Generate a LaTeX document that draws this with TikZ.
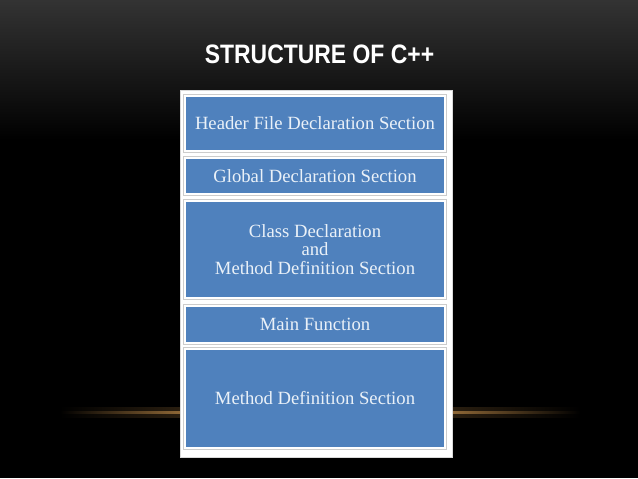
\documentclass[tikz,border=0pt]{standalone}
\usepackage{fontspec}
\setmainfont{Liberation Serif}
\newfontfamily\titlefont{Liberation Sans}
\definecolor{boxblue}{HTML}{4F81BD}
\definecolor{boxtext}{HTML}{EAF1F8}
\definecolor{glow}{HTML}{A87A40}
\definecolor{topgray}{HTML}{333333}

\tikzset{every picture/.style={line width=0.75pt}}
\tikzset{
  sectionbox/.style={fill=boxblue, draw=white, line width=1.2pt,
    preaction={draw=gray!40, line width=3.2pt},
    minimum width=195pt, align=center, text=boxtext,
    font=\fontsize{14}{14}\selectfont, inner sep=0pt},
}

\begin{document}
\begin{tikzpicture}[x=0.75pt,y=0.75pt,yscale=-1]
\useasboundingbox (0,0) rectangle (638,478);

%Shape: Background
\fill [black] (0,0) rectangle (638,478);
\shade [top color=topgray, bottom color=black] (0,0) rectangle (638,140);
%Shape: Glow line
\shade [left color=black, right color=glow!25!black] (60,407) rectangle (181,417);
\shade [left color=glow!25!black, right color=black] (452,407) rectangle (580,417);
\shade [left color=black, right color=glow!85!black] (60,411) rectangle (181,413);
\shade [left color=glow!85!black, right color=black] (452,411) rectangle (580,413);

% Title Node
\node (title) [anchor=base, xscale=0.86, text=white, font=\titlefont\bfseries\fontsize{20}{24}\selectfont] at (319.5,64) {STRUCTURE OF C++};

%Shape: Rectangle (panel)
\draw [draw=gray!30, fill=white] (180.5,90) rectangle (452,457);

% Section Nodes
\node (header) [sectionbox, minimum height=41.25pt] at (315,123.5) {Header File Declaration Section};
\node (global) [sectionbox, minimum height=27pt] at (315,176) {Global Declaration Section};
\node (class) [sectionbox, minimum height=72.75pt] at (315,249.5) {Class Declaration\\and\\Method Definition Section};
\node (mainfn) [sectionbox, minimum height=27.75pt] at (315,324.5) {Main Function};
\node (method) [sectionbox, minimum height=74.25pt] at (315,398.5) {Method Definition Section};

\end{tikzpicture}
\end{document}
